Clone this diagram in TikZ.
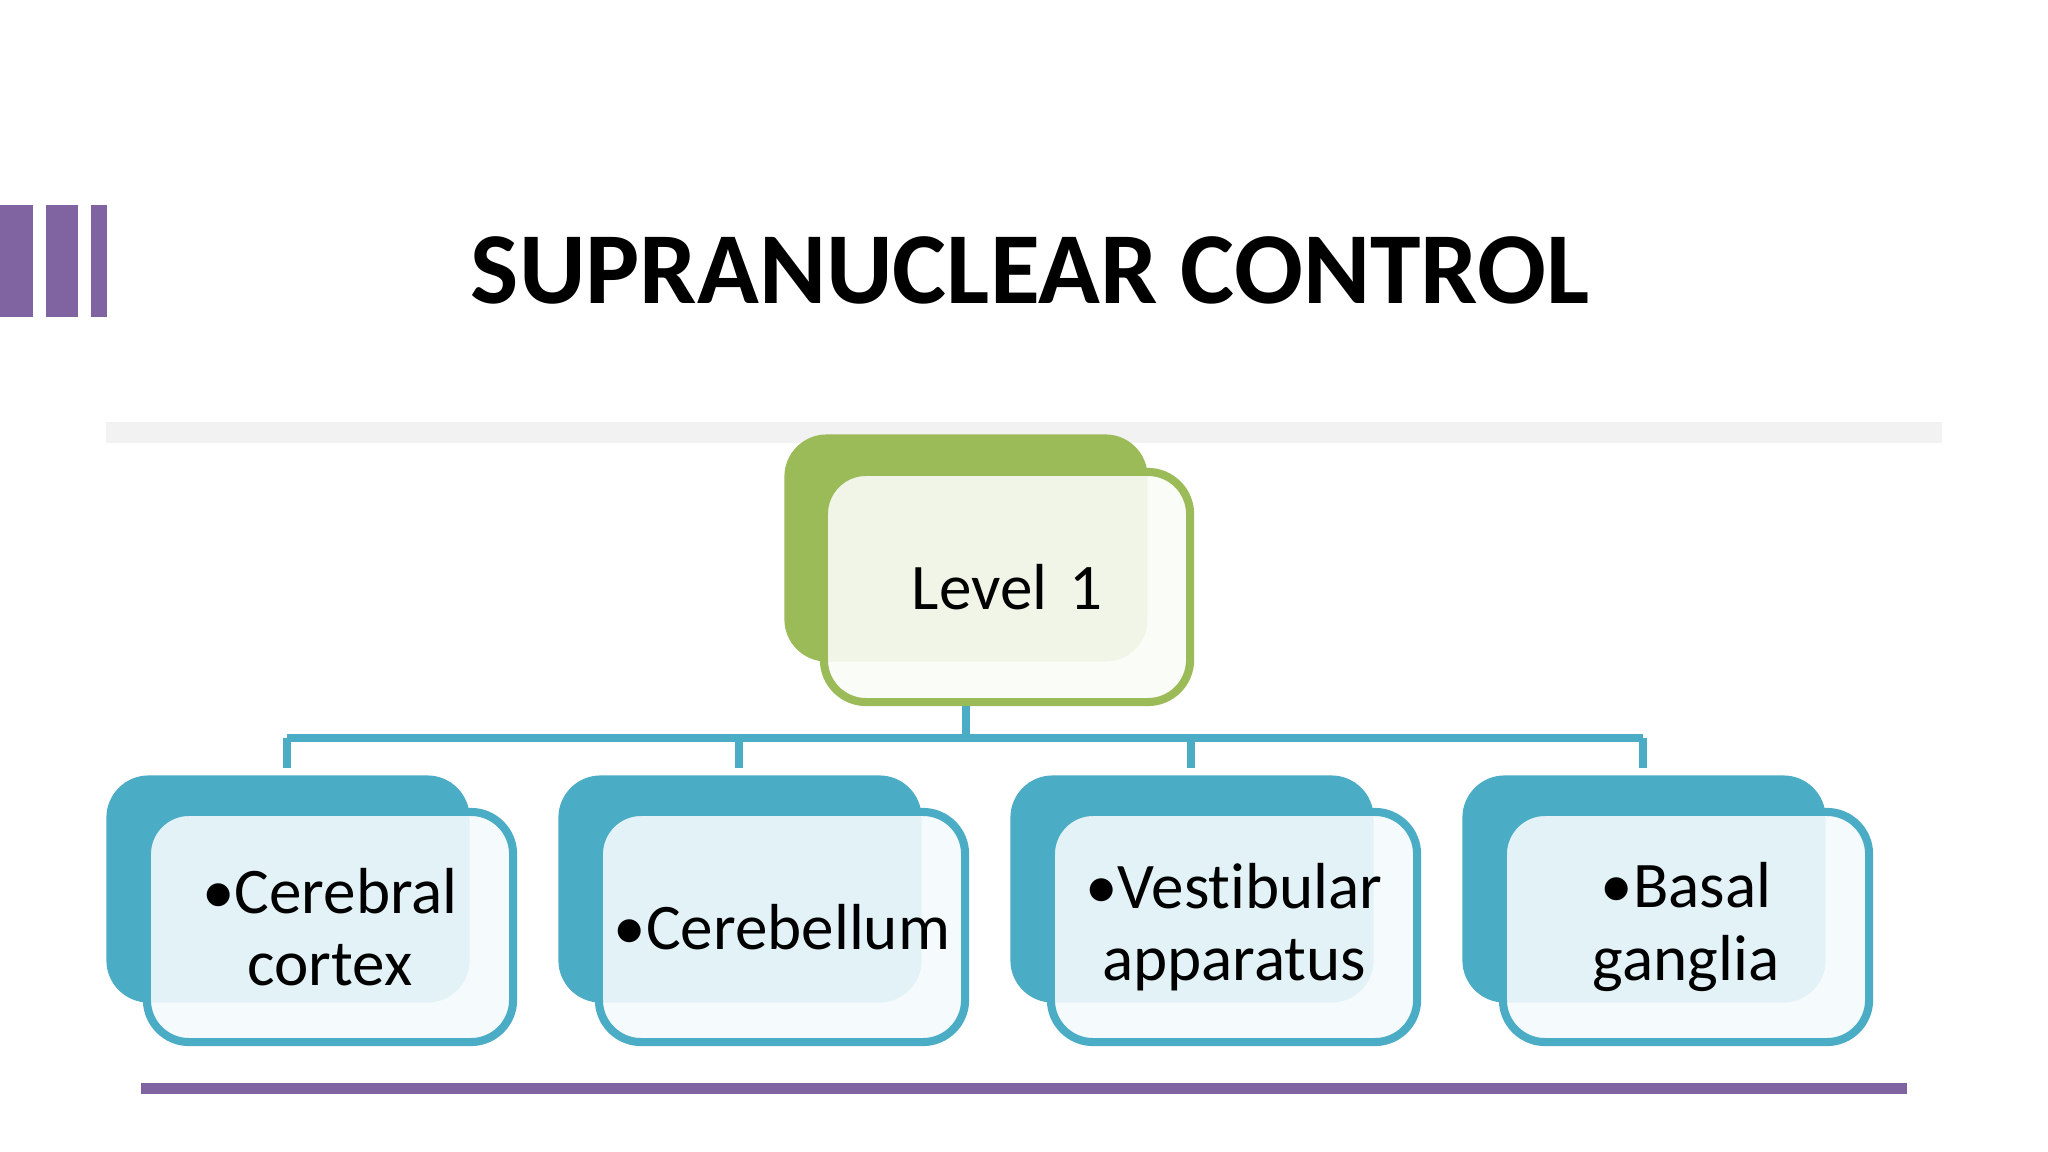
\documentclass[tikz,border=0pt]{standalone}
\usepackage{fontspec}
\setmainfont{Carlito}[Ligatures=NoCommon]
\usetikzlibrary{positioning}
\usetikzlibrary{shadows}
\definecolor{purp}{HTML}{8064A2}
\definecolor{leaf}{HTML}{9BBB59}
\definecolor{aqua}{HTML}{4BACC6}
\tikzset{
  bar/.style={fill=purp, draw=none},
  back/.style={draw=none, rounded corners=12pt, minimum width=3.63cm, minimum height=2.27cm},
  front/.style={draw=#1, line width=2.3pt, rounded corners=12pt, minimum width=3.66cm, minimum height=2.3cm, text width=3.4cm, inner sep=0pt, fill=white, fill opacity=0.9, text opacity=1, align=center, font=\fontsize{18.5}{20.5}\selectfont},
  link/.style={draw=aqua, line width=2.2pt}
}
\begin{document}
\begin{tikzpicture}[x=0.01cm, y=-0.01cm]
    \useasboundingbox (0,0) rectangle (2048,1152);
    \fill[white] (0,0) rectangle (2048,1152);
    % Title banner
    \node[fill=white, minimum width=18.34cm, minimum height=3.03cm,
          drop shadow={opacity=0.1, shadow xshift=0pt, shadow yshift=-6pt}] (banner) at (1024,270) {};
    \node[font=\fontsize{29}{34}\selectfont\bfseries] (title) at (1030,270) {SUPRANUCLEAR CONTROL};
    \fill[bar] (0,205) rectangle (33,317);
    \fill[bar] (46,205) rectangle (78,317);
    \fill[bar] (91,205) rectangle (107,317);

    % Top level
    \node[back, fill=leaf] (topback) at (966,548) {};
    \node[front=leaf, fill=leaf!5] (level) at (1007,587) {Level 1};

    % Lower level
    \foreach \name/\txt [count=\i from 0] in {cortex/{•Cerebral\\cortex}, cerebellum/{•Cerebellum}, vestib/{•Vestibular\\apparatus}, basal/{•Basal\\ganglia}} {
        \node[back, fill=aqua] (\name back) at (288+\i*452,889) {};
        \node[front=aqua, fill=aqua!6] (\name) at (330+\i*452,927) {\txt};
        \coordinate (\name top) at (287+\i*452,768);
        \coordinate (\name bus) at (287+\i*452,738);
    }

    % Connectors
    \coordinate (hub) at (966,738);
    \draw[link] (level.south -| hub) -- (hub);
    \draw[link] (cortexbus) -- (basalbus);
    \foreach \name in {cortex, cerebellum, vestib, basal}
        \draw[link] (\name bus) -- (\name top);

    % Footer rule
    \fill[purp] (141,1083) rectangle (1907,1094);
\end{tikzpicture}
\end{document}
